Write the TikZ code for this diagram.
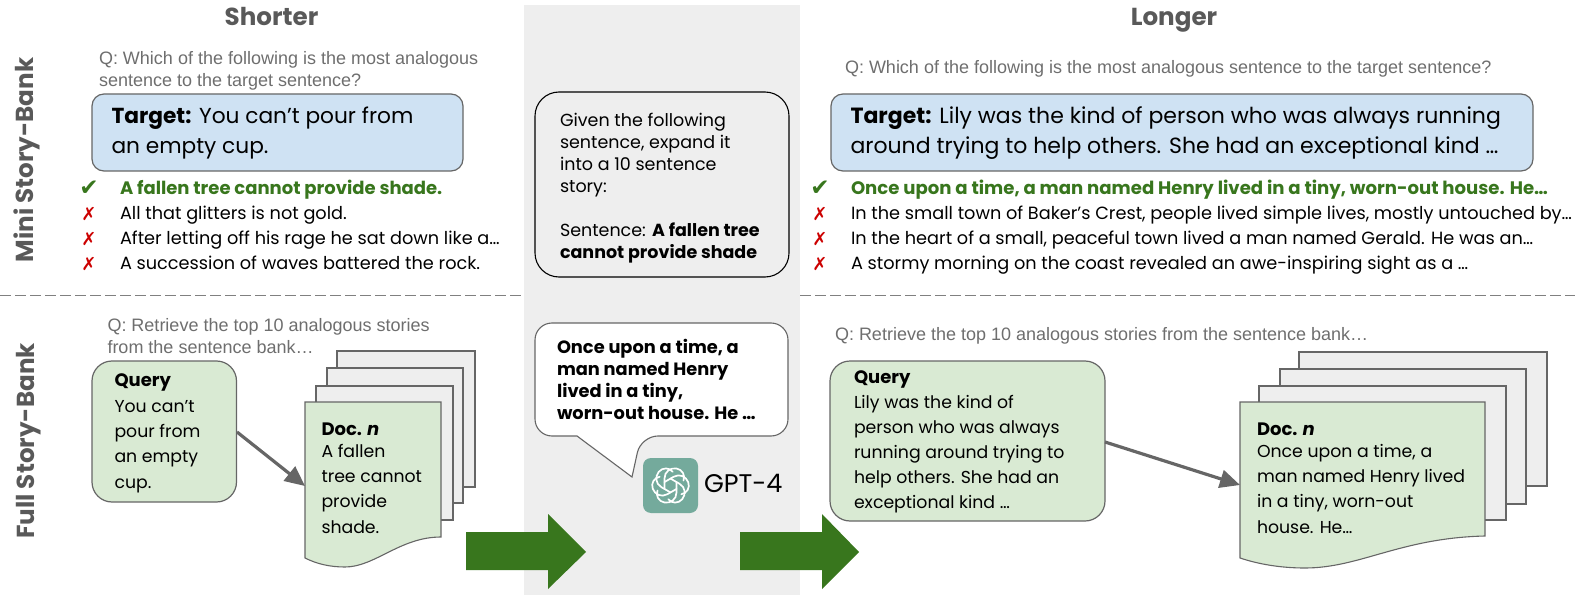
\documentclass[tikz,border=0pt]{standalone}
\usepackage{fontspec}
\setmainfont{Poppins}
\newfontfamily\qf{Liberation Sans}
\newfontfamily\mk{DejaVu Sans}
\definecolor{bandc}{HTML}{EEEEEE}
\definecolor{edgec}{HTML}{666666}
\definecolor{titlec}{HTML}{595959}
\definecolor{greenc}{HTML}{38761D}
\definecolor{bluef}{HTML}{CFE2F3}
\definecolor{greenf}{HTML}{D9EAD3}
\definecolor{qc}{HTML}{6E6E6E}
\definecolor{redc}{HTML}{CC0000}
\definecolor{logoc}{HTML}{74AA9C}
\newcommand{\fs}[2]{\fontsize{#1pt}{#2pt}\selectfont}
\newcommand{\hd}[1]{{\bfseries\fs{18}{25.3}#1}}
\usetikzlibrary{arrows.meta}
\tikzset{
 txt/.style={inner sep=0pt,outer sep=0pt,anchor=base west,align=left},
 qtext/.style={txt,text=qc,font=\qf\fs{18}{22}},
 title/.style={inner sep=0pt,anchor=base,text=titlec,font=\bfseries\fs{24.6}{28}},
 side/.style={inner sep=0pt,anchor=base,rotate=90,text=titlec,font=\bfseries\fs{24.6}{28}},
 tbox/.style={draw=edgec,line width=1.2pt,fill=bluef,rounded corners=12pt,inner sep=0pt},
 gbox/.style={draw=edgec,line width=1.2pt,fill=greenf,rounded corners=20pt,inner sep=0pt},
 target/.style={txt,font=\fs{22}{30}},
 item/.style={txt,font=\fs{17.7}{25}},
 good/.style={item,text=greenc,font=\bfseries\fs{18.1}{25}},
 body/.style={txt,font=\fs{17.3}{25.3}},
 mid/.style={txt,font=\fs{17.5}{22}},
 okmark/.style={inner sep=0pt,anchor=base,text=greenc,font=\mk\fs{23}{24}},
 nomark/.style={inner sep=0pt,anchor=base,text=redc,font=\mk\fs{18}{18}},
 page/.style={draw=edgec,line width=1.1pt,fill=bandc},
 frontpage/.style={draw=edgec,line width=1.1pt,fill=greenf},
 flow/.style={draw=edgec,line width=3.2pt,-{Triangle[length=20pt,width=18pt]}},
 bigarrow/.style={fill=greenc},
 dashline/.style={draw=black!50,line width=1pt,dash pattern=on 10.5pt off 4.5pt},
}
\begin{document}
\begin{tikzpicture}[x=1pt,y=-1pt]
\useasboundingbox (0,0) rectangle (1575,599);
% band and separators
\fill[bandc] (524,5) rectangle (800,595);
\coordinate (dl0) at (0,295); \coordinate (dl1) at (524,295);
\coordinate (dr0) at (800,295); \coordinate (dr1) at (1575,295);
\draw[dashline] (dl0) -- (dl1);
\draw[dashline] (dr0) -- (dr1);
% titles
\node[title] (tshort) at (271.5,25.5) {Shorter};
\node[title] (tlong) at (1174,25.5) {Longer};
\node[side] (smini) at (34,160) {Mini Story-Bank};
\node[side] (sfull) at (34.5,441) {Full Story-Bank};
% mini, shorter
\node[qtext] (q1) at (99,87) {Q: Which of the following is the most analogous\\sentence to the target sentence?};
\node[tbox,minimum width=371pt,minimum height=77pt] (targetL) at (277.5,132.5) {};
\node[target,font=\fs{21.7}{30}] (targetLt) at (111.5,154) {\textbf{Target:} You can't pour from\\an empty cup.};
\node[okmark] (mL1) at (89,196) {✔};
\node[nomark] (mL2) at (89,220) {✗};
\node[nomark] (mL3) at (89,245) {✗};
\node[nomark] (mL4) at (89,270) {✗};
\node[good,font=\bfseries\fs{18}{25}] (iL1) at (120,194) {A fallen tree cannot provide shade.};
\node[item] (iL2) at (120,219) {All that glitters is not gold.};
\node[item] (iL3) at (120,244) {After letting off his rage he sat down like a…};
\node[item] (iL4) at (120,269) {A succession of waves battered the rock.};
% mini, longer
\node[qtext] (q2) at (845,74) {Q: Which of the following is the most analogous sentence to the target sentence?};
\node[tbox,minimum width=702pt,minimum height=77pt] (targetR) at (1182,132.5) {};
\node[target] (targetRt) at (850.5,154) {\textbf{Target:} Lily was the kind of person who was always running\\around trying to help others. She had an exceptional kind …};
\node[okmark] (mR1) at (820,196) {✔};
\node[nomark] (mR2) at (820,220) {✗};
\node[nomark] (mR3) at (820,245) {✗};
\node[nomark] (mR4) at (820,270) {✗};
\node[good] (iR1) at (851,194) {Once upon a time, a man named Henry lived in a tiny, worn-out house. He…};
\node[item] (iR2) at (851,219) {In the small town of Baker's Crest, people lived simple lives, mostly untouched by…};
\node[item] (iR3) at (851,244) {In the heart of a small, peaceful town lived a man named Gerald. He was an…};
\node[item] (iR4) at (851,269) {A stormy morning on the coast revealed an awe-inspiring sight as a …};
% centre
\node[draw=black,line width=1.1pt,fill=bandc,rounded corners=24pt,inner sep=0pt,minimum width=254pt,minimum height=185pt] (prompt) at (662,184.5) {};
\node[mid] (promptt) at (560,258) {Given the following\\sentence, expand it\\into a 10 sentence\\story:\\[22pt]Sentence: \textbf{A fallen tree}\\\textbf{cannot provide shade}};
\draw[draw=edgec,line width=1.1pt,fill=white,rounded corners=17pt] (535,436) -- (535,323) -- (788,323) -- (788,436) -- (641,436) [sharp corners] -- (632,477) -- (577,436) [rounded corners=17pt] -- cycle;
\node[mid,font=\bfseries\fs{17.8}{22}] (bubt) at (557,419) {Once upon a time, a\\man named Henry\\lived in a tiny,\\worn-out house. He …};
\fill[logoc,rounded corners=8pt] (643,458) rectangle (698,513);
\begin{scope}[shift={(670.5,485.5)}]
\foreach \k in {0,60,...,300}{
 \draw[white,line width=1.7pt,line cap=round,rotate=\k] (6,-3.5) -- (6,7) .. controls (6,14) and (0,18) .. (-6,17) .. controls (-12,16) and (-15,10) .. (-13,5);
}
\end{scope}
\node[txt,font=\fs{25.5}{29}] (gpt) at (704,492) {GPT-4};
% big arrows
\fill[bigarrow] (466,532) -- (548,532) -- (548,514) -- (586,552) -- (548,589) -- (548,570) -- (466,570) -- cycle;
\fill[bigarrow] (740,532) -- (822,532) -- (822,514) -- (859,552) -- (822,589) -- (822,570) -- (740,570) -- cycle;
% full, shorter
\node[qtext] (q3) at (107.5,353) {Q: Retrieve the top 10 analogous stories\\from the sentence bank…};
\node[gbox,minimum width=144.5pt,minimum height=141pt] (queryL) at (164.25,431.5) {};
\node[body] (queryLt) at (114.5,488) {\hd{Query}\\You can't\\pour from\\an empty\\cup.};
\draw[page] (337,351) rectangle (475,487);
\draw[page] (327,368) rectangle (463,503);
\draw[page] (316,386) rectangle (453,520);
\draw[frontpage] (305,402) -- (441,402) -- (441,537) .. controls (400,537) and (375,567) .. (345,567) .. controls (330,567) and (317,564) .. (305,558) -- cycle;
\node[txt,font=\bfseries\fs{18}{22}] (docLh) at (321.5,435) {Doc. \textit{n}};
\node[body] (docLt) at (321.5,533) {A fallen\\tree cannot\\provide\\shade.};
\coordinate (aL0) at (237,432); \coordinate (aL1) at (305,486);
\draw[flow] (aL0) -- (aL1);
% full, longer
\node[qtext] (q4) at (835,340) {Q: Retrieve the top 10 analogous stories from the sentence bank…};
\node[gbox,minimum width=275pt,minimum height=160pt] (queryR) at (967.5,441) {};
\node[body,font=\fs{17.3}{25}] (queryRt) at (854,508) {\hd{Query}\\Lily was the kind of\\person who was always\\running around trying to\\help others. She had an\\exceptional kind …};
\draw[page] (1299,352) rectangle (1547,486);
\draw[page] (1280,369) rectangle (1526,504);
\draw[page] (1259,386) rectangle (1506,520);
\draw[frontpage] (1240,402) -- (1485,402) -- (1485,536) .. controls (1400,538) and (1360,568) .. (1305,568) .. controls (1280,568) and (1258,564) .. (1240,558) -- cycle;
\node[txt,font=\bfseries\fs{18}{22}] (docRh) at (1257,435) {Doc. \textit{n}};
\node[body] (docRt) at (1257,533) {Once upon a time, a\\man named Henry lived\\in a tiny, worn-out\\house. He…};
\coordinate (aR0) at (1105,442); \coordinate (aR1) at (1240,485);
\draw[flow] (aR0) -- (aR1);
\end{tikzpicture}
\end{document}
